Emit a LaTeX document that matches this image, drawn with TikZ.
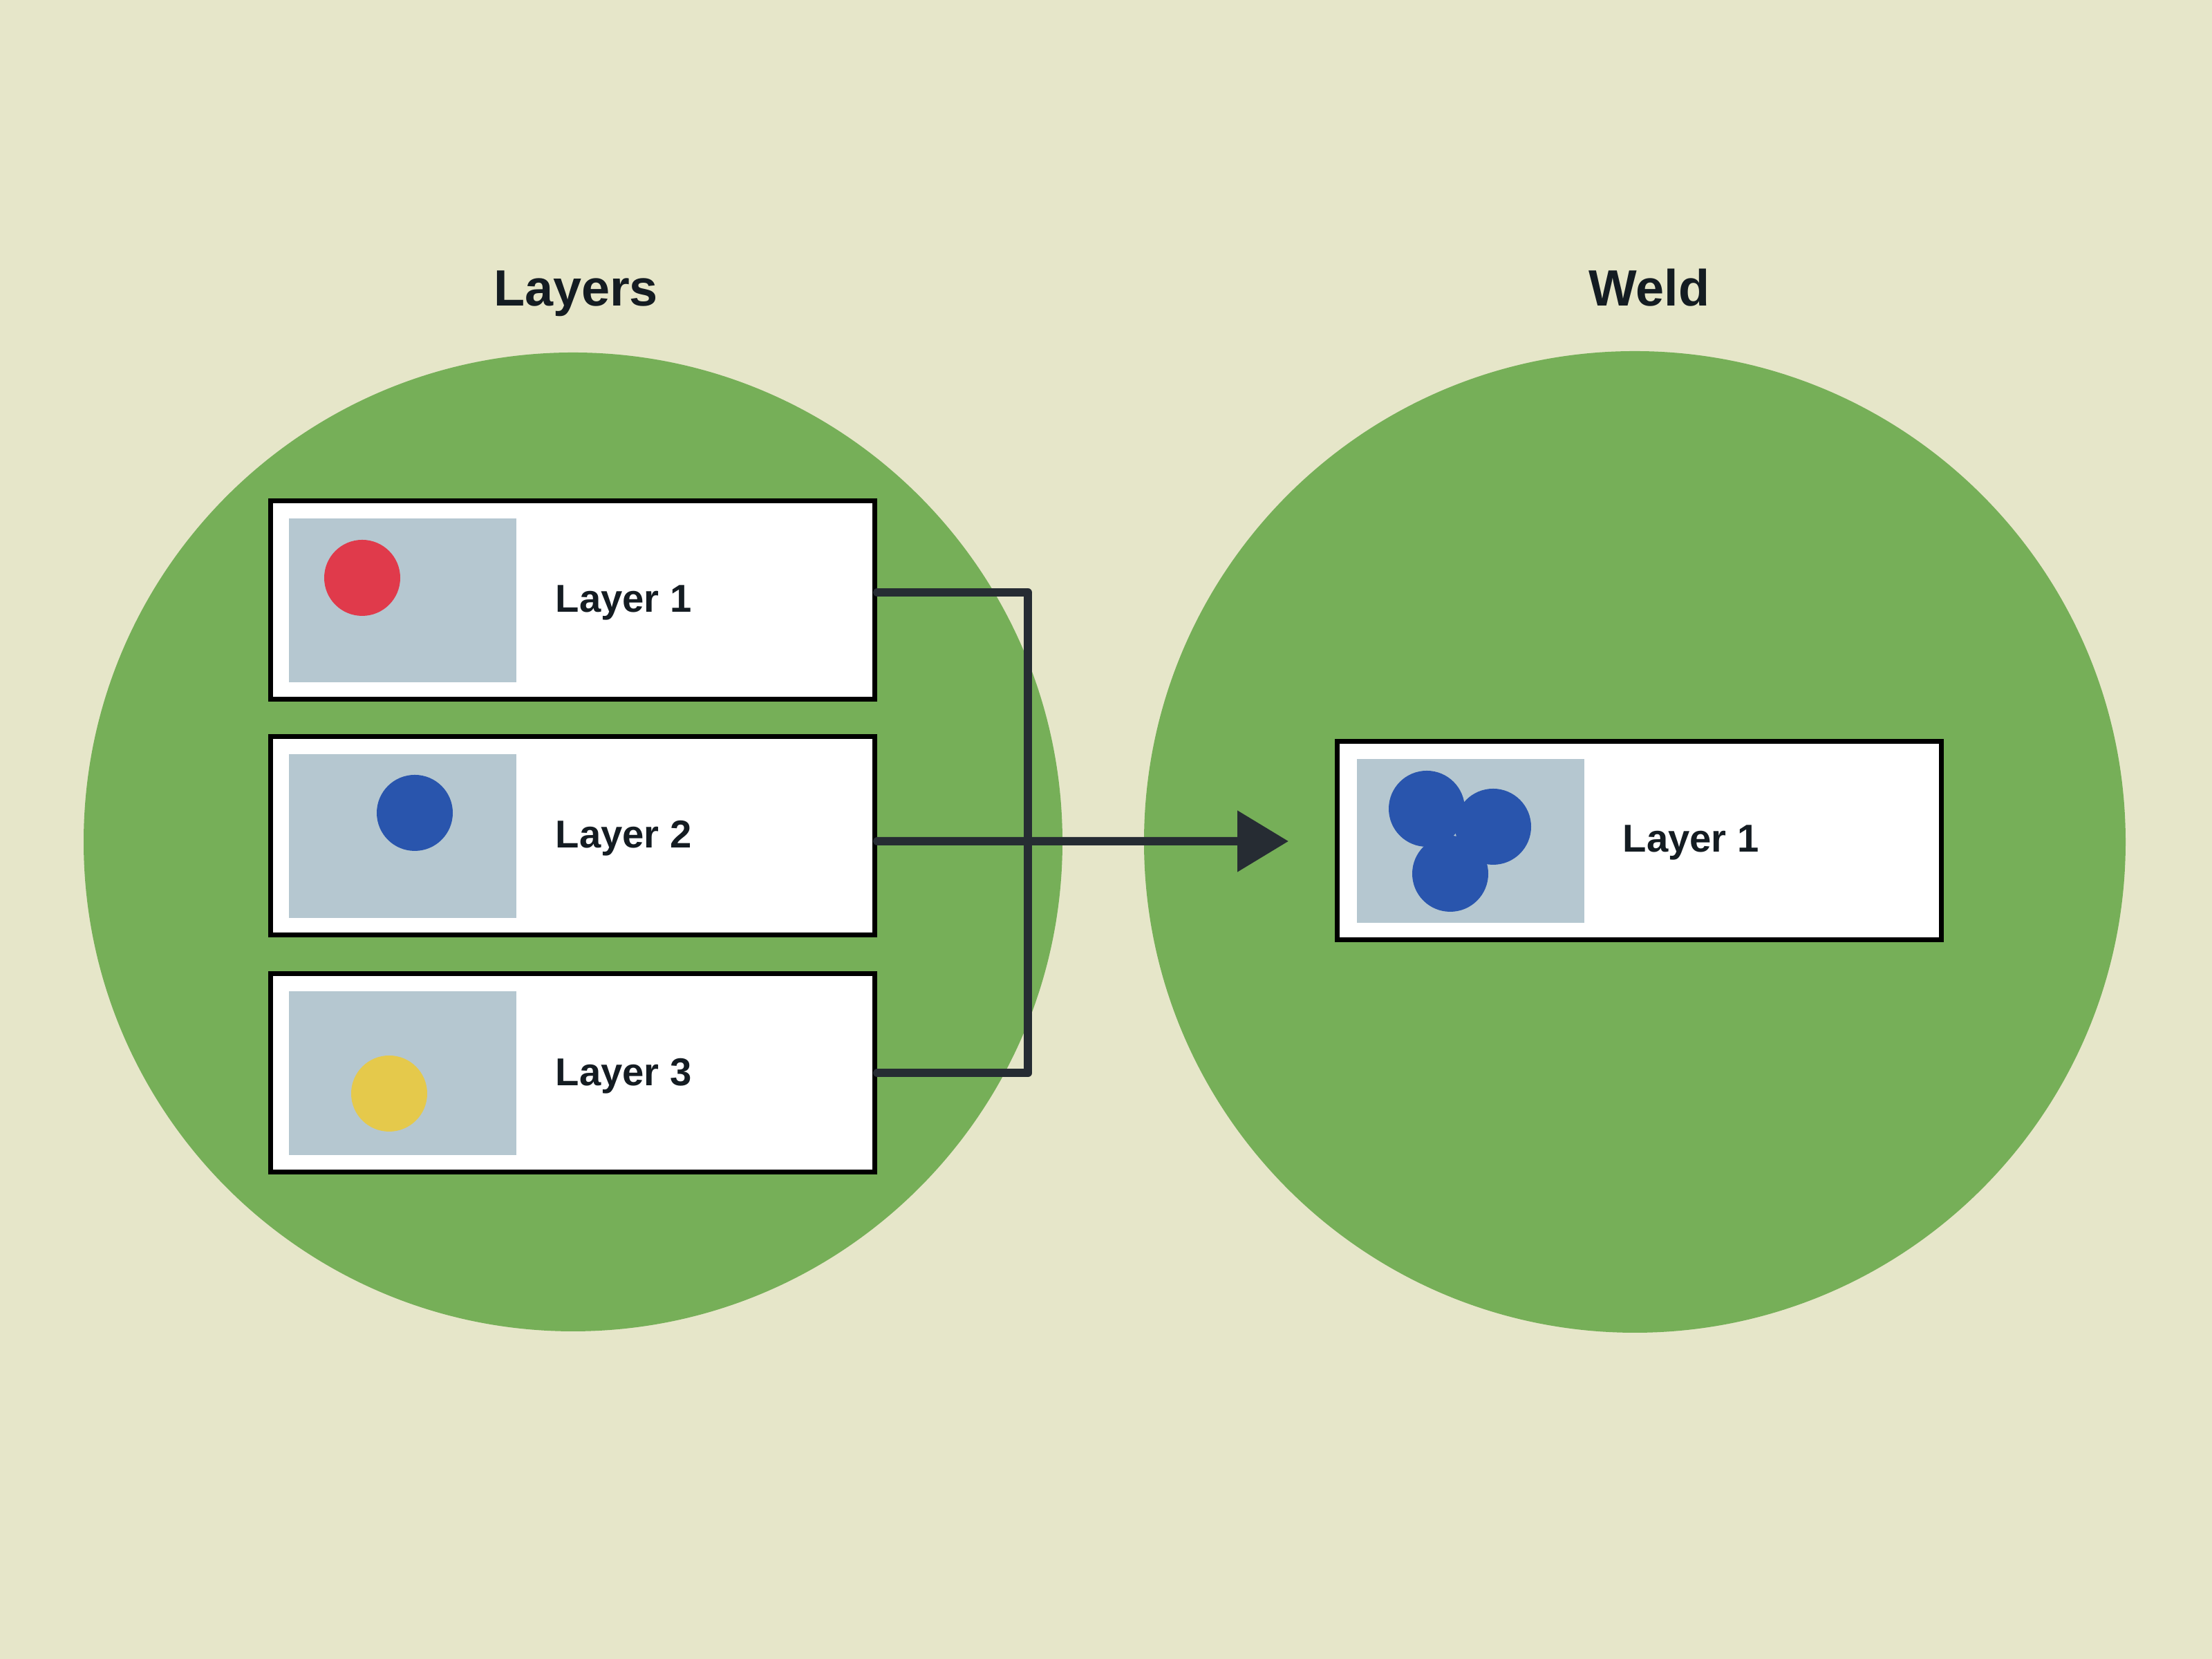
\documentclass[tikz,border=0pt]{standalone}
\usepackage{fontspec}
\setmainfont{Liberation Sans}
\usepackage{tikz}
\usetikzlibrary{arrows.meta}
\usepackage{xcolor}
\definecolor{bgcream}{HTML}{E6E6C9}
\definecolor{leafgreen}{HTML}{76AF58}
\definecolor{thumbgray}{HTML}{B5C7D0}
\definecolor{dotred}{HTML}{E03A4B}
\definecolor{dotblue}{HTML}{2955AD}
\definecolor{dotyellow}{HTML}{E5C94B}
\definecolor{wireink}{HTML}{262C33}
\definecolor{inktext}{HTML}{141C22}

\begin{document}
\begin{tikzpicture}[
  layerbox/.style={draw=black,fill=white,line width=2pt,inner sep=0pt,minimum width=8.74cm,minimum height=2.87cm},
  thumb/.style={fill=thumbgray,inner sep=0pt,minimum width=3.29cm,minimum height=2.37cm},
  label/.style={anchor=base west,inner sep=0pt,text=inktext,font=\bfseries\fontsize{16}{19}\selectfont},
  title/.style={anchor=base,inner sep=0pt,text=inktext,font=\bfseries\fontsize{21}{25}\selectfont},
  wire/.style={draw=wireink,line width=3.4pt,line cap=round,line join=round},
  ar/.style={wire,-{Triangle[length=7.4mm,width=8.6mm]}}]
\fill[bgcream] (0,0) rectangle (32,24);
\useasboundingbox (0,0) rectangle (32,24);
\fill[leafgreen] (8.29,11.82) circle (7.08);
\fill[leafgreen] (23.65,11.82) circle (7.10);
\node[title] (tl) at (8.33,19.57) {Layers};
\node[title] (tw) at (23.86,19.57) {Weld};
\node[layerbox] (l1) at (8.285,15.32) {};
\node[layerbox] (l2) at (8.285,11.91) {};
\node[layerbox] (l3) at (8.285,8.475) {};
\node[layerbox] (w1) at (23.715,11.84) {};
\node[thumb] (g1) at (5.825,15.315) {};
\node[thumb] (g2) at (5.825,11.905) {};
\node[thumb] (g3) at (5.825,8.47) {};
\node[thumb] (gw) at (21.27,11.835) {};
\fill[dotred] (5.24,15.64) circle (0.55);
\fill[dotblue] (6.00,12.24) circle (0.55);
\fill[dotyellow] (5.63,8.18) circle (0.55);
\fill[dotblue] (20.64,12.30) circle (0.55);
\fill[dotblue] (21.60,12.04) circle (0.55);
\fill[dotblue] (20.98,11.36) circle (0.55);
\node[label] (t1) at (8.03,15.14) {Layer 1};
\node[label] (t2) at (8.03,11.73) {Layer 2};
\node[label] (t3) at (8.03,8.295) {Layer 3};
\node[label] (tw1) at (23.47,11.67) {Layer 1};
\coordinate (jn) at (14.87,11.83);
\coordinate (tip) at (18.64,11.83);
\draw[wire] ([yshift=1.1mm]l1.east) -| (jn) |- (l3.east);
\draw[ar] ([yshift=-0.8mm]l2.east) -- (tip);
\end{tikzpicture}
\end{document}
